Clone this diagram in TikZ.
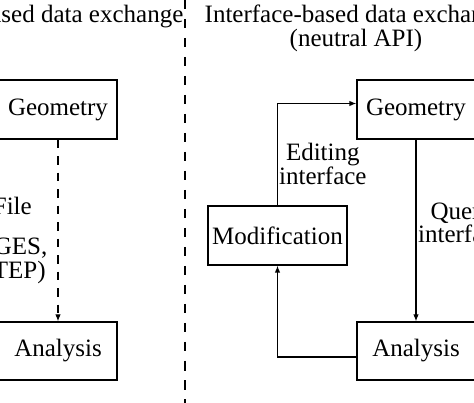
\documentclass[tikz,border=0pt]{standalone}
\usepackage{fontspec}
\setmainfont{Liberation Serif}
\usetikzlibrary{arrows.meta}
\begin{document}
\begin{tikzpicture}[x=1pt,y=-1pt, line width=1.2pt,
  every node/.style={font=\fontsize{25}{24}\selectfont},
  box/.style={draw, minimum height=59pt, inner sep=0pt},
  lbl/.style={align=center, inner sep=1.5pt},
  arr/.style={-{Latex[length=7pt,width=5.5pt]}},
  sep/.style={dash pattern=on 9.5pt off 9.5pt}]
\useasboundingbox (0,0) rectangle (474,403);
\clip (0,0) rectangle (474,403);
\draw[sep] (185,0) -- (185,403);
% titles
\node[anchor=base] (tL) at (57,23) {File-based data exchange};
\node[anchor=north, align=center, inner sep=0pt] (tR) at (356,4.5) {Interface-based data exchange\\(neutral API)};
% left column
\node[box, minimum width=118pt] (gL) at (58,109.5) {Geometry};
\node[box, minimum width=118pt, minimum height=58pt] (aL) at (58,351) {Analysis};
\draw[arr, dash pattern=on 8.5pt off 8pt] (gL) -- (aL);
\node[lbl, anchor=east, font=\fontsize{25}{17}\selectfont] (fL) at (49.5,240.5) {File\\[21pt](IGES,\\STEP)};
% right column
\node[box, minimum width=118pt] (gR) at (416,109.5) {Geometry};
\node[box, minimum width=118pt, minimum height=58pt] (aR) at (416,351) {Analysis};
\node[box, minimum width=139pt] (mod) at (277.5,235.5) {Modification};
\draw[arr] (gR) -- (aR);
\draw[arr] ([yshift=-6pt]aR.west) -| (mod.south);
\draw[arr] (mod.north) |- ([yshift=6pt]gR.west);
\node[lbl, anchor=west, font=\fontsize{25}{22}\selectfont] (eL) at (277,164) {Editing\\interface};
\node[lbl, anchor=west, font=\fontsize{25}{23}\selectfont] (qL) at (416,223) {Query\\interface};
\end{tikzpicture}
\end{document}
